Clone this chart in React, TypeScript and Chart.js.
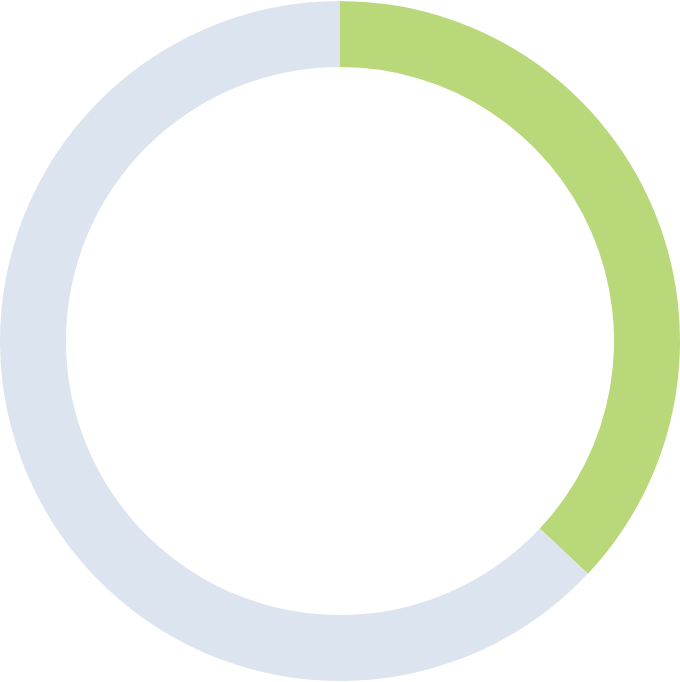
import React, { useEffect, useRef } from "react";
import { Chart, registerables } from "chart.js";

Chart.register(...registerables);

const categories = ["Done", "Remaining"];
const values = [37, 63];
const colors = ["#b8d879", "#dce5ef"];

export default function App() {
  const ref = useRef<HTMLCanvasElement | null>(null);
  useEffect(() => {
    document.body.style.margin = "0";
    const chart = new Chart(ref.current!, {
      type: "doughnut",
      data: {
        labels: categories,
        datasets: [
          {
            data: values,
            backgroundColor: colors,
            hoverBackgroundColor: colors,
            borderWidth: 0,
          },
        ],
      },
      options: {
        animation: false,
        responsive: false,
        cutout: "80.6%",
        plugins: { legend: { display: false }, tooltip: { enabled: false } },
        layout: { padding: 0 },
      },
    });
    return () => chart.destroy();
  }, []);
  return (
    <div style={{ position: "fixed", left: 0, top: 0, width: 680, height: 682 }}>
      <canvas ref={ref} width={680} height={682} style={{ width: 680, height: 682, display: "block" }} />
    </div>
  );
}
